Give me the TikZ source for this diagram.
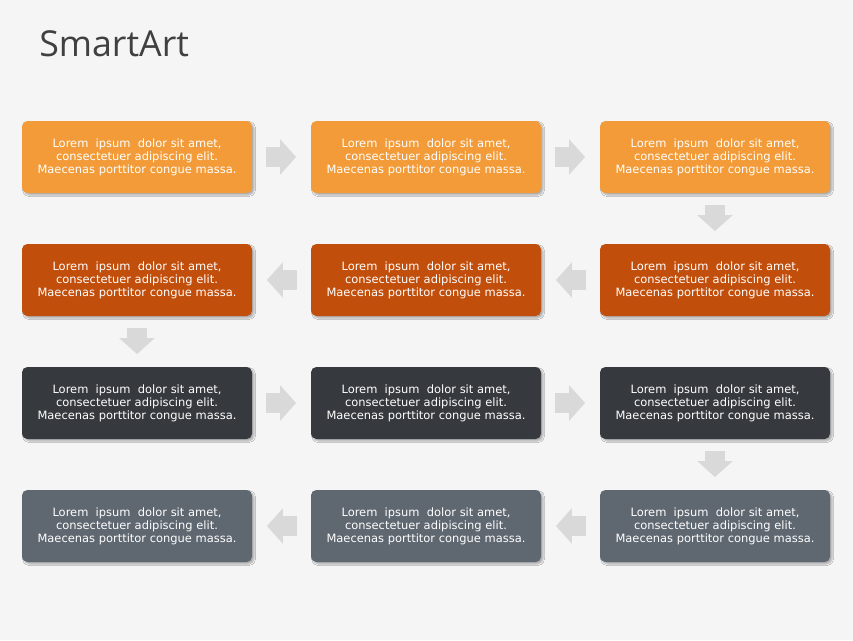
\documentclass[tikz,border=0pt]{standalone}
\usepackage{fontspec}
\setmainfont{DejaVu Sans}
\newfontfamily\titlefont{Open Sans}
\usetikzlibrary{arrows.meta,shadows.blur}

\definecolor{pageBg}{HTML}{F5F5F6}
\definecolor{titleGray}{HTML}{404040}
\definecolor{stepOrange}{HTML}{F29B38}
\definecolor{stepRust}{HTML}{C24E0B}
\definecolor{stepDark}{HTML}{363A3E}
\definecolor{stepSlate}{HTML}{5F6771}
\definecolor{arrowGray}{HTML}{D9D9D9}

\tikzset{
  stepbox/.style={rounded corners=4pt, minimum width=172.5pt, minimum height=54pt,
    inner sep=0pt, align=center, text=white, font=\fontsize{8.6}{9.75}\selectfont,
    blur shadow={shadow xshift=1.5pt, shadow yshift=-1.5pt, shadow blur radius=1.2pt,
      shadow blur steps=5, shadow opacity=30}},
  flowline/.style={draw=arrowGray, line width=15.5pt,
    -{Triangle[width=26pt, length=12pt, color=arrowGray]}},
  harrow/.style={flowline, shorten <=10.5pt, shorten >=11pt},
  varrow/.style={flowline, shorten <=9pt, shorten >=9.5pt},
}

\newcommand{\lorem}{Lorem\ \ ipsum\ \ dolor sit amet,\\ consectetuer adipiscing\ elit.\\ Maecenas porttitor congue massa.}

\begin{document}
\begin{tikzpicture}[x=0.75pt,y=0.75pt,yscale=-1,xscale=1]
%set diagram frame: 853 x 640
\fill[pageBg] (0,0) rectangle (853,640);
\useasboundingbox (0,0) rectangle (853,640);

% Title
\node (title) [anchor=base west, inner sep=0pt, text=titleGray, font=\titlefont\fontsize{26.8}{32}\selectfont] at (39,56) {SmartArt};

% Row 1
\node (s11) [stepbox, fill=stepOrange] at (137,157) {\lorem};
\node (s12) [stepbox, fill=stepOrange] at (426,157) {\lorem};
\node (s13) [stepbox, fill=stepOrange] at (715,157) {\lorem};
% Row 2
\node (s21) [stepbox, fill=stepRust] at (137,280) {\lorem};
\node (s22) [stepbox, fill=stepRust] at (426,280) {\lorem};
\node (s23) [stepbox, fill=stepRust] at (715,280) {\lorem};
% Row 3
\node (s31) [stepbox, fill=stepDark] at (137,403) {\lorem};
\node (s32) [stepbox, fill=stepDark] at (426,403) {\lorem};
\node (s33) [stepbox, fill=stepDark] at (715,403) {\lorem};
% Row 4
\node (s41) [stepbox, fill=stepSlate] at (137,526) {\lorem};
\node (s42) [stepbox, fill=stepSlate] at (426,526) {\lorem};
\node (s43) [stepbox, fill=stepSlate] at (715,526) {\lorem};

% Flow arrows
\draw[harrow] (s11.east) -- (s12.west);
\draw[harrow] (s12.east) -- (s13.west);
\draw[varrow] (s13.south) -- (s23.north);
\draw[harrow] (s23.west) -- (s22.east);
\draw[harrow] (s22.west) -- (s21.east);
\draw[varrow] (s21.south) -- (s31.north);
\draw[harrow] (s31.east) -- (s32.west);
\draw[harrow] (s32.east) -- (s33.west);
\draw[varrow] (s33.south) -- (s43.north);
\draw[harrow] (s43.west) -- (s42.east);
\draw[harrow] (s42.west) -- (s41.east);

\end{tikzpicture}
\end{document}
